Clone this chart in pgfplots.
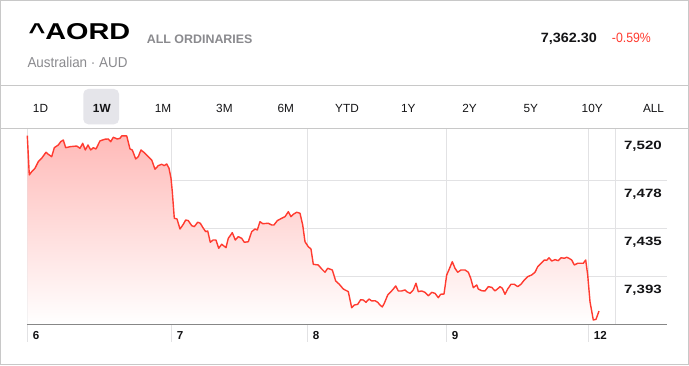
\documentclass[border=0pt]{standalone}
\usepackage{pgfplots}
\pgfplotsset{compat=1.18}
\usepackage{pgfplotstable}
\usepackage{fontspec}
\setmainfont{Liberation Sans}
\usepackage{graphicx}

\definecolor{applered}{RGB}{255,59,48}
\definecolor{fillred}{RGB}{255,186,184}
\definecolor{gridgray}{RGB}{226,226,228}
\definecolor{axisgray}{RGB}{135,135,135}
\definecolor{textgray}{RGB}{138,138,142}
\definecolor{framegray}{RGB}{200,200,200}
\definecolor{btngray}{RGB}{229,229,234}
\definecolor{ink}{RGB}{20,20,22}

\newcommand{\fit}[3]{\resizebox{#1}{#2}{#3}}

\pgfplotstableread{
x v
0.3 7516.7
2.3 7482.1
4.7 7485.0
8 7488.0
11.3 7493.8
14.7 7496.8
19 7502.1
21.3 7500.3
24.7 7498.2
27.3 7506.1
31.3 7508.5
33.7 7511.4
36.3 7512.9
38.7 7506.1
43 7507.0
49.7 7507.6
53 7505.6
55.7 7510.0
58.3 7504.1
61 7508.5
63.7 7504.1
66.3 7506.1
69 7505.0
73 7512.1
78 7513.6
81.3 7513.8
83.7 7511.4
86.3 7515.3
90.3 7513.8
93 7514.4
94.7 7516.5
99.7 7516.5
103 7505.0
105.3 7504.1
108.7 7496.2
111.3 7498.2
114 7504.1
118 7501.2
121.3 7498.2
124.7 7495.3
128 7487.1
131.3 7490.3
134.7 7491.5
137.3 7490.3
139.7 7491.8
142 7488.0
144 7479.2
145.3 7467.3
147.3 7443.9
150 7443.3
153 7434.4
156.3 7438.6
158.7 7442.4
161.3 7441.8
164.7 7437.4
167.3 7436.5
170.7 7440.4
173.3 7439.5
176.3 7435.1
178.7 7432.1
180.7 7432.7
183.3 7422.7
186 7424.7
189 7424.7
191.7 7417.4
194.7 7421.0
199 7418.0
201.3 7426.2
205.3 7431.2
208.3 7424.7
211.3 7427.7
214.7 7426.2
217.3 7422.7
221.3 7423.2
224.7 7432.1
228 7434.4
230.3 7433.6
233 7440.9
235.7 7439.1
241.3 7439.5
244.7 7438.0
247 7438.0
250.3 7441.8
254.7 7443.9
258 7445.3
261.3 7449.7
264 7445.3
266.3 7447.4
269.7 7449.2
273 7448.3
275.7 7438.0
278 7423.2
281.3 7418.8
284 7416.8
286.3 7403.3
291.3 7402.7
294.7 7399.2
298 7396.3
300.7 7399.8
305.3 7398.3
308.7 7388.6
312.3 7385.7
316.3 7381.5
321.3 7379.2
324.7 7365.0
327.3 7367.4
330.7 7368.0
333.7 7372.1
336.3 7371.8
339 7369.8
342 7372.7
344.7 7371.0
348 7371.2
350.7 7369.8
353 7367.4
355.3 7365.7
357.3 7368.9
360.7 7376.2
364 7379.2
366.3 7381.5
368.7 7384.2
371.3 7379.8
374.7 7379.8
378 7380.7
379.7 7379.2
383 7377.7
386.3 7380.7
389 7386.6
391.3 7379.2
394.7 7379.8
398 7378.6
401.3 7375.6
404.7 7378.6
408 7377.7
411.3 7373.9
413.7 7376.9
417 7377.1
419.7 7393.9
422.3 7399.2
425.3 7405.6
428 7399.8
430.7 7396.3
434 7398.3
438 7398.3
441.3 7396.3
443.7 7391.0
446.3 7382.7
449.7 7385.1
451.3 7381.5
454.7 7380.0
458 7379.8
461.3 7383.6
464.7 7383.0
468 7379.8
471.3 7382.2
473 7383.6
475.3 7382.2
478 7376.9
480.7 7381.5
484 7385.7
487.3 7385.7
490.7 7383.6
494 7385.7
497.3 7389.5
500.7 7392.4
504.7 7393.9
508 7396.3
510.7 7401.2
514 7404.2
517.3 7407.1
519.7 7406.8
522 7409.1
524.7 7406.2
528 7407.4
531.3 7406.5
534 7409.1
537.3 7408.6
539.7 7409.5
542 7408.6
544.7 7407.1
547.3 7402.7
550.7 7404.2
556.3 7404.2
558.7 7407.1
560.7 7393.9
563 7370.3
566.3 7354.2
569 7354.8
572 7362.1
}\pricedata

\begin{document}
\begin{tikzpicture}[x=1pt,y=1pt]
\useasboundingbox (0,0) rectangle (689,365);
\fill[white] (0,0) rectangle (689,365);

% header
\node[anchor=base west, inner sep=0, text=black] at (28.3,325.7) {\fit{101.7pt}{16pt}{\bfseries\textasciicircum AORD}};
\node[anchor=base west, inner sep=0, text=textgray] at (146.7,321.7) {\fit{105.6pt}{8.6pt}{\bfseries ALL ORDINARIES}};
\node[anchor=base west, inner sep=0, text=textgray] at (27.3,297.7) {\fit{100pt}{10.4pt}{Australian · AUD}};
\node[anchor=base west, inner sep=0, text=ink] at (540.7,322.3) {\fit{56pt}{9.4pt}{\bfseries 7,362.30}};
\node[anchor=base west, inner sep=0, text=applered] at (611.7,322.3) {\fit{39pt}{9.4pt}{-0.59\%}};

\draw[framegray, line width=0.8pt] (1,280) -- (688,280);

% range buttons
\fill[btngray, rounded corners=5pt] (83.3,240.7) rectangle (119,276);
\begin{scope}[every node/.style={anchor=base, inner sep=0, text=ink, font=\fontsize{11.8}{13}\selectfont}]
\node at (40.5,252.7) {1D};
\node at (101.8,252.7) {\bfseries 1W};
\node at (163.1,252.7) {1M};
\node at (224.4,252.7) {3M};
\node at (285.7,252.7) {6M};
\node at (347.0,252.7) {YTD};
\node at (408.3,252.7) {1Y};
\node at (469.6,252.7) {2Y};
\node at (530.9,252.7) {5Y};
\node at (592.2,252.7) {10Y};
\node at (653.5,252.7) {ALL};
\end{scope}

\draw[framegray, line width=0.8pt] (1,236.3) -- (688,236.3);

\begin{axis}[
  at={(27pt,40.7pt)}, anchor=south west,
  width=640pt, height=195.3pt, scale only axis,
  xmin=0, xmax=640, ymin=7350.4, ymax=7522.6,
  axis line style={draw=none},
  xtick={0,144,280,419,561,588},
  ytick={7393,7435.33,7477.67},
  xticklabels={}, yticklabels={},
  major tick length=0pt,
  xmajorgrids, ymajorgrids,
  grid style={gridgray, line width=0.8pt},
  clip=false,
]
\addplot[draw=none, top color=fillred, bottom color=white] table[x=x, y=v] {\pricedata} |- (axis cs:0.3,7350.4) -- cycle;
\addplot[applered, line width=1.4pt, line join=round] table[x=x, y=v] {\pricedata};

% grid extensions below the axis
\draw[gridgray, line width=0.8pt] (axis cs:0,7350.4) -- ([yshift=-17.7pt]axis cs:0,7350.4);
\draw[gridgray, line width=0.8pt] (axis cs:144,7350.4) -- ([yshift=-17.7pt]axis cs:144,7350.4);
\draw[gridgray, line width=0.8pt] (axis cs:280,7350.4) -- ([yshift=-17.7pt]axis cs:280,7350.4);
\draw[gridgray, line width=0.8pt] (axis cs:419,7350.4) -- ([yshift=-17.7pt]axis cs:419,7350.4);
\draw[gridgray, line width=0.8pt] (axis cs:561,7350.4) -- ([yshift=-17.7pt]axis cs:561,7350.4);
% axis line
\draw[axisgray, line width=1pt] (axis cs:0,7350.4) -- (axis cs:640,7350.4);

% day labels
\begin{scope}[every node/.style={anchor=base west, inner sep=0, text=ink, font=\bfseries\fontsize{11.6}{13}\selectfont}]
\node at ([xshift=5.7pt,yshift=-15pt]axis cs:0,7350.4) {6};
\node at ([xshift=5.7pt,yshift=-15pt]axis cs:144,7350.4) {7};
\node at ([xshift=5.7pt,yshift=-15pt]axis cs:280,7350.4) {8};
\node at ([xshift=5.7pt,yshift=-15pt]axis cs:419,7350.4) {9};
\node at ([xshift=5.7pt,yshift=-15pt]axis cs:561,7350.4) {12};
\end{scope}

% price labels
\begin{scope}[every node/.style={anchor=base east, inner sep=0, text=ink}]
\node at ([yshift=-17.8pt]axis cs:635,7520) {\fit{37.7pt}{8.4pt}{\bfseries 7,520}};
\node at ([yshift=-17.8pt]axis cs:635,7477.67) {\fit{37.7pt}{8.4pt}{\bfseries 7,478}};
\node at ([yshift=-17.8pt]axis cs:635,7435.33) {\fit{37.7pt}{8.4pt}{\bfseries 7,435}};
\node at ([yshift=-17.8pt]axis cs:635,7393) {\fit{37.7pt}{8.4pt}{\bfseries 7,393}};
\end{scope}
\end{axis}

\draw[framegray, line width=1pt] (0.5,0.5) rectangle (688.5,364.5);
\end{tikzpicture}
\end{document}
